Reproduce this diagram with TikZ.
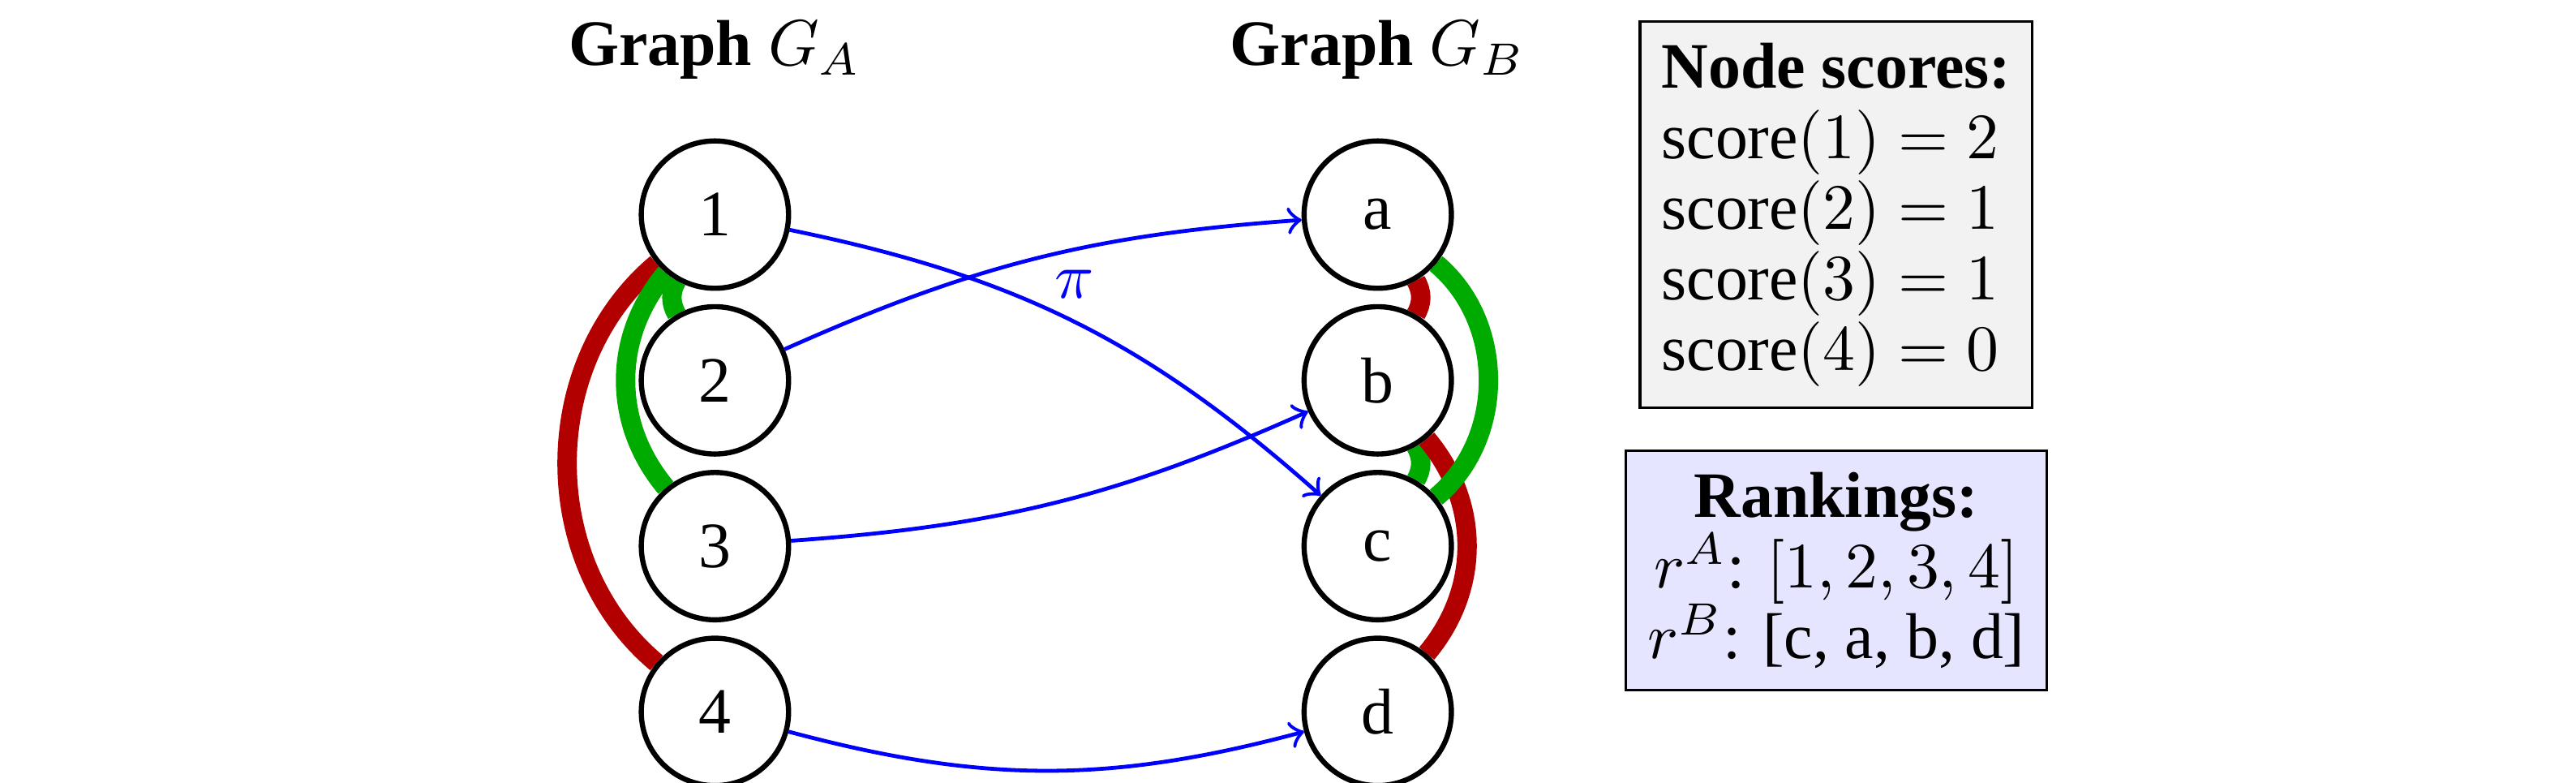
\documentclass[tikz,border=0pt]{standalone}
\usepackage[no-math]{fontspec}
\setmainfont{Liberation Serif}
\usetikzlibrary{positioning,backgrounds}

\tikzset{
  vertex/.style={circle, draw, thick, fill=white, minimum size=0.8cm, inner sep=0pt},
  redge/.style={line width=3pt, red!70!black},
  gedge/.style={line width=3pt, green!67!black},
  perm/.style={->, semithick, blue},
  infobox/.style={draw, font={\fontsize{10}{10.9}\selectfont\lineskiplimit=-10pt\relax}}
}

\begin{document}
\begin{tikzpicture}
    \useasboundingbox (-3.883,-3.082) rectangle (10.108,1.165);
    % graph A
    \node[anchor=base] (titleA) at (0,0.81) {\textbf{Graph} $G_A$};
    \node[vertex] (n1) at (0,0) {1};
    \node[vertex] (n2) at (0,-0.9) {2};
    \node[vertex] (n3) at (0,-1.8) {3};
    \node[vertex] (n4) at (0,-2.7) {4};
    % graph B
    \node[anchor=base] (titleB) at (3.6,0.81) {\textbf{Graph} $G_B$};
    \node[vertex] (a) at (3.6,0) {a};
    \node[vertex] (b) at (3.6,-0.9) {b};
    \node[vertex] (c) at (3.6,-1.8) {c};
    \node[vertex] (d) at (3.6,-2.7) {d};
    % edges behind the vertices
    \begin{pgfonlayer}{background}
       \draw[redge] (n1) to[bend right=50] (n4);
       \draw[gedge] (n1) to[bend right=40] (n3);
       \draw[gedge] (n1) to[bend right=30] (n2);
       \draw[redge] (a) to[bend left=30] (b);
       \draw[gedge] (b) to[bend left=30] (c);
       \draw[redge] (b) to[bend left=40] (d);
       \draw[gedge] (a) to[bend left=50] (c);
    \end{pgfonlayer}
    % matching
    \draw[perm] (n1) to[bend left=15] (c);
    \draw[perm] (n2) to[bend left=10] (a);
    \draw[perm] (n3) to[bend right=10] (b);
    \draw[perm] (n4) to[bend right=15] (d);
    \node[blue] (pi) at (1.954,-0.377) {$\pi$};
    % boxes
    \node[infobox, fill=gray!10, align=left] (scores) at (6.09,0)
       {\textbf{Node scores:}\\ score$(1) = 2$\\ score$(2) = 1$\\ score$(3) = 1$\\ score$(4) = 0$};
    \node[infobox, fill=blue!10, align=center, below=0.22cm of scores] (ranks)
       {\textbf{Rankings:}\\ $r^A$: $[1, 2, 3, 4]$\\ $r^B$: [c, a, b, d]};
\end{tikzpicture}
\end{document}
